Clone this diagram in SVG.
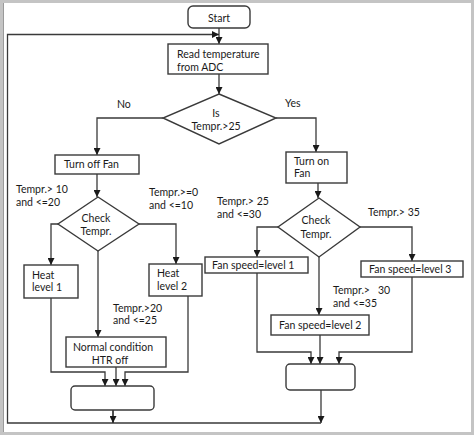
<svg xmlns="http://www.w3.org/2000/svg" width="474" height="435" viewBox="0 0 474 435">
<style>
.b{fill:#fff;stroke:#3a3a3a;stroke-width:1.4}
.l{fill:none;stroke:#3a3a3a;stroke-width:1.3}
text{font-family:Lato,"Open Sans","Liberation Sans",sans-serif;font-size:10.5px;fill:#1a1a1a}
</style>
<defs>
<marker id="a" viewBox="0 0 10 10" refX="10" refY="5" markerWidth="7" markerHeight="7" markerUnits="userSpaceOnUse" orient="auto"><path d="M0,0L10,5L0,10z" fill="#1a1a1a"/></marker>
</defs>
<rect x="0" y="0" width="474" height="435" fill="#fff"/>
<rect x="1.5" y="1.5" width="471" height="432" fill="none" stroke="#c4c4c4" stroke-width="3"/>
<line x1="3.5" y1="3" x2="3.5" y2="432" stroke="#9a9a9a" stroke-width="1"/>
<g id="connectors">
<path class="l" d="M219,28V44" marker-end="url(#a)"/>
<path class="l" d="M113,410V423"/>
<path class="l" d="M321,390V423" marker-end="url(#a)"/>
<path class="l" d="M321,423H7.5V34.5H219" marker-end="url(#a)"/>
<path class="l" d="M219,74V94" marker-end="url(#a)"/>
<path class="l" d="M163,118H97V155" marker-end="url(#a)"/>
<path class="l" d="M276,118H316V152" marker-end="url(#a)"/>
<path class="l" d="M97,174V197" marker-end="url(#a)"/>
<path class="l" d="M58,224H51V265" marker-end="url(#a)"/>
<path class="l" d="M139,224H176V264" marker-end="url(#a)"/>
<path class="l" d="M98,251V337" marker-end="url(#a)"/>
<path class="l" d="M51,298V372H105V386" marker-end="url(#a)"/>
<path class="l" d="M116,367V386" marker-end="url(#a)"/>
<path class="l" d="M188,296V372H125V386" marker-end="url(#a)"/>
<path class="l" d="M318,183V198" marker-end="url(#a)"/>
<path class="l" d="M278,227H257V257" marker-end="url(#a)"/>
<path class="l" d="M360,227H412V261" marker-end="url(#a)"/>
<path class="l" d="M319,257V315" marker-end="url(#a)"/>
<path class="l" d="M257,273V352H311V364" marker-end="url(#a)"/>
<path class="l" d="M320,335V364" marker-end="url(#a)"/>
<path class="l" d="M412,277V352H339V364" marker-end="url(#a)"/>
<path class="l" d="M113,410V423" marker-end="url(#a)"/>
</g>
<g id="start"><rect class="b" x="188" y="6" width="62" height="22" rx="5"/><text x="219" y="21.5" text-anchor="middle" font-size="12.5">Start</text></g>
<g id="read"><rect class="b" x="168" y="44" width="100" height="30"/><text x="177" y="57.5">Read temperature</text><text x="177" y="70.5">from ADC</text></g>
<g id="d1"><path class="b" d="M219,94L276,118L219,144L163,118Z"/><text x="216" y="117" text-anchor="middle">Is</text><text x="216" y="130" text-anchor="middle">Tempr.&gt;25</text></g>
<text x="117" y="107.5">No</text>
<text x="285" y="106.5">Yes</text>
<g id="fanoff"><rect class="b" x="55" y="155" width="84" height="19"/><text x="64" y="168">Turn off Fan</text></g>
<g id="fanon"><rect class="b" x="286" y="152" width="61" height="31"/><text x="294" y="165">Turn on</text><text x="294" y="177">Fan</text></g>
<g id="d2"><path class="b" d="M98,197L139,224L98,251L58,224Z"/><text x="96" y="222" text-anchor="middle">Check</text><text x="96" y="235" text-anchor="middle">Tempr.</text></g>
<g id="d3"><path class="b" d="M319,198L360,227L319,257L278,227Z"/><text x="316" y="224" text-anchor="middle">Check</text><text x="316" y="238" text-anchor="middle">Tempr.</text></g>
<text x="16" y="192.5">Tempr.&gt; 10</text><text x="16" y="205.5">and &lt;=20</text>
<text x="149" y="195.5">Tempr.&gt;=0</text><text x="149" y="208.5">and &lt;=10</text>
<text x="217" y="204.5">Tempr.&gt; 25</text><text x="217" y="217.5">and &lt;=30</text>
<text x="368" y="215.5">Tempr.&gt; 35</text>
<text x="113" y="311.5">Tempr.&gt;20</text><text x="113" y="323.5">and &lt;=25</text>
<text x="333" y="293.5" xml:space="preserve">Tempr.&gt;   30</text><text x="333" y="306.5">and &lt;=35</text>
<g id="heat1"><rect class="b" x="24" y="265" width="54" height="33"/><text x="32" y="278.5">Heat</text><text x="32" y="290.5">level 1</text></g>
<g id="heat2"><rect class="b" x="149" y="264" width="53" height="32"/><text x="157" y="276.5">Heat</text><text x="157" y="289.5">level 2</text></g>
<g id="normal"><rect class="b" x="66" y="337" width="100" height="30"/><text x="113" y="350.5" text-anchor="middle">Normal condition</text><text x="110" y="363.5" text-anchor="middle">HTR off</text></g>
<g id="fs1"><rect class="b" x="205" y="257" width="103" height="16"/><text x="212" y="269">Fan speed=level 1</text></g>
<g id="fs3"><rect class="b" x="361" y="261" width="102" height="16"/><text x="369" y="273">Fan speed=level 3</text></g>
<g id="fs2"><rect class="b" x="271" y="315" width="98" height="20"/><text x="279" y="329">Fan speed=level 2</text></g>
<g id="end1"><rect class="b" x="71" y="386" width="83" height="24" rx="4"/></g>
<g id="end2"><rect class="b" x="286" y="364" width="69" height="26" rx="4"/></g>
</svg>
